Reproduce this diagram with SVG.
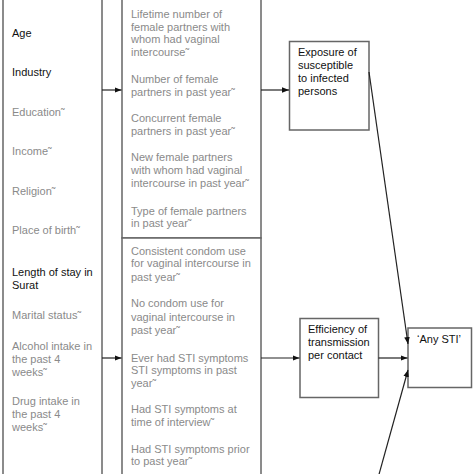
<svg xmlns="http://www.w3.org/2000/svg" width="474" height="474" viewBox="0 0 474 474">
<defs>
<marker id="ah" viewBox="0 0 10 10" refX="10" refY="5" markerWidth="7" markerHeight="7" markerUnits="userSpaceOnUse" orient="auto"><path d="M0,1 L10,5 L0,9 z" fill="#111"/></marker>
<style>
.box{fill:#fff;stroke:#666;stroke-width:1.5}
.t{font-family:"Liberation Sans",Arial,sans-serif;font-size:11px}
.k{fill:#111}
.g{fill:#8a8a8a}
.c{stroke:#222;stroke-width:1.2;fill:none;marker-end:url(#ah)}
</style>
</defs>
<rect width="474" height="474" fill="#fff"/>
<g id="node-left">
<rect class="box" x="3" y="-5" width="99" height="485"/>
<text class="t k" x="12" y="37">Age</text>
<text class="t k" x="12" y="76">Industry</text>
<text class="t g" x="12" y="116">Education˜</text>
<text class="t g" x="12" y="155">Income˜</text>
<text class="t g" x="12" y="195">Religion˜</text>
<text class="t g" x="12" y="234">Place of birth˜</text>
<text class="t k" x="12" y="276">Length of stay in</text>
<text class="t k" x="12" y="289">Surat</text>
<text class="t g" x="12" y="319">Marital status˜</text>
<text class="t g" x="12" y="350">Alcohol intake in</text>
<text class="t g" x="12" y="363">the past 4</text>
<text class="t g" x="12" y="375.5">weeks˜</text>
<text class="t g" x="12" y="405">Drug intake in</text>
<text class="t g" x="12" y="418">the past 4</text>
<text class="t g" x="12" y="431">weeks˜</text>
</g>
<g id="node-partners">
<rect class="box" x="122" y="-5" width="139" height="243"/>
<text class="t g" x="131" y="18">Lifetime number of</text>
<text class="t g" x="131" y="30.5">female partners with</text>
<text class="t g" x="131" y="43">whom had vaginal</text>
<text class="t g" x="131" y="56">intercourse˜</text>
<text class="t g" x="131" y="83">Number of female</text>
<text class="t g" x="131" y="96">partners in past year˜</text>
<text class="t g" x="131" y="122">Concurrent female</text>
<text class="t g" x="131" y="135">partners in past year˜</text>
<text class="t g" x="131" y="161">New female partners</text>
<text class="t g" x="131" y="174">with whom had vaginal</text>
<text class="t g" x="131" y="187">intercourse in past year˜</text>
<text class="t g" x="131" y="214.5">Type of female partners</text>
<text class="t g" x="131" y="227">in past year˜</text>
</g>
<g id="node-condom">
<rect class="box" x="122" y="238" width="139" height="242"/>
<text class="t g" x="131" y="254.5">Consistent condom use</text>
<text class="t g" x="131" y="267">for vaginal intercourse in</text>
<text class="t g" x="131" y="280.5">past year˜</text>
<text class="t g" x="131" y="307">No condom use for</text>
<text class="t g" x="131" y="320.5">vaginal intercourse in</text>
<text class="t g" x="131" y="334">past year˜</text>
<text class="t g" x="131" y="361.5">Ever had STI symptoms</text>
<text class="t g" x="131" y="373.5">STI symptoms in past</text>
<text class="t g" x="131" y="386.5">year˜</text>
<text class="t g" x="131" y="413">Had STI symptoms at</text>
<text class="t g" x="131" y="426">time of interview˜</text>
<text class="t g" x="131" y="452.5">Had STI symptoms prior</text>
<text class="t g" x="131" y="465">to past year˜</text>
</g>
<g id="node-exposure">
<rect class="box" x="289.5" y="41.5" width="79.5" height="88.5"/>
<text class="t k" x="298" y="56">Exposure of</text>
<text class="t k" x="298" y="69">susceptible</text>
<text class="t k" x="298" y="82">to infected</text>
<text class="t k" x="298" y="95">persons</text>
</g>
<g id="node-efficiency">
<rect class="box" x="300" y="318.5" width="78.5" height="79"/>
<text class="t k" x="308" y="333">Efficiency of</text>
<text class="t k" x="308" y="346">transmission</text>
<text class="t k" x="308" y="359">per contact</text>
</g>
<g id="node-sti">
<rect class="box" x="408" y="328" width="63.5" height="59.5"/>
<text class="t k" x="417" y="343">‘Any STI’</text>
</g>
<g id="connectors">
<line class="c" x1="102" y1="90" x2="121.5" y2="90"/>
<line class="c" x1="102" y1="358" x2="121.5" y2="358"/>
<line class="c" x1="261" y1="90" x2="289" y2="90"/>
<line class="c" x1="261" y1="358" x2="299.5" y2="358"/>
<line class="c" x1="378.5" y1="358" x2="407.5" y2="358"/>
<line class="c" x1="369" y1="72" x2="408" y2="344"/>
<line class="c" x1="378" y1="478" x2="408" y2="370"/>
</g>
</svg>
